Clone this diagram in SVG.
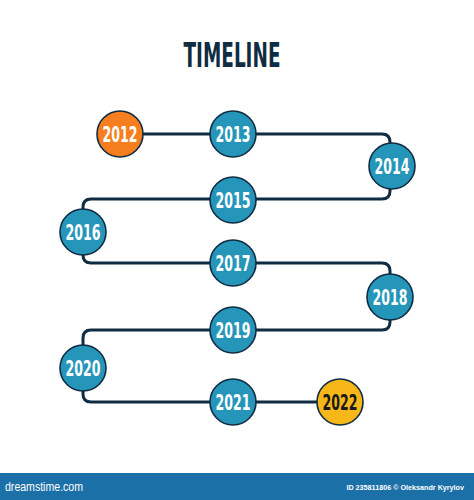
<svg xmlns="http://www.w3.org/2000/svg" width="474" height="500" viewBox="0 0 474 500">
<style>
.yr{font-family:"DejaVu Sans Condensed","Liberation Sans Narrow","Liberation Sans",sans-serif;font-stretch:condensed;font-weight:bold;font-size:21px;text-anchor:middle;fill:#ffffff}
.blue{fill:#2596ba;stroke:#0f2c42;stroke-width:1.6}
.orange{fill:#f57e1e;stroke:#0f2c42;stroke-width:1.6}
.yellow{fill:#f7b718;stroke:#0f2c42;stroke-width:1.6}
.link{fill:none;stroke:#0f2c42;stroke-width:3;stroke-linejoin:round}
.foot{font-family:"Liberation Sans","DejaVu Sans",sans-serif;fill:#ffffff}
</style>
<rect width="474" height="500" fill="#ffffff"/>
<text x="232" y="67" font-family="DejaVu Sans Condensed,Liberation Sans Narrow,sans-serif" font-weight="bold" font-size="33" fill="#0f2c42" text-anchor="middle" textLength="97" lengthAdjust="spacingAndGlyphs">TIMELINE</text>
<g id="connectors">
<path class="link" d="M120,134 H382 Q390,134 390,142 V191 Q390,199 382,199 H91 Q83,199 83,207 V255 Q83,263 91,263 H382 Q390,263 390,271 V322 Q390,330 382,330 H91 Q83,330 83,338 V394 Q83,402 91,402 H340"/>
</g>
<g id="n2012"><circle class="orange" cx="120" cy="134" r="23"/><text class="yr" x="120" y="141.5" textLength="35" lengthAdjust="spacingAndGlyphs">2012</text></g>
<g id="n2013"><circle class="blue" cx="233" cy="134" r="23"/><text class="yr" x="233" y="141.5" textLength="35" lengthAdjust="spacingAndGlyphs">2013</text></g>
<g id="n2014"><circle class="blue" cx="392" cy="166" r="23"/><text class="yr" x="392" y="173.5" textLength="35" lengthAdjust="spacingAndGlyphs">2014</text></g>
<g id="n2015"><circle class="blue" cx="233" cy="200" r="23"/><text class="yr" x="233" y="207.5" textLength="35" lengthAdjust="spacingAndGlyphs">2015</text></g>
<g id="n2016"><circle class="blue" cx="83" cy="232" r="23"/><text class="yr" x="83" y="239.5" textLength="35" lengthAdjust="spacingAndGlyphs">2016</text></g>
<g id="n2017"><circle class="blue" cx="233" cy="263" r="23"/><text class="yr" x="233" y="270.5" textLength="35" lengthAdjust="spacingAndGlyphs">2017</text></g>
<g id="n2018"><circle class="blue" cx="390" cy="297" r="23"/><text class="yr" x="390" y="304.5" textLength="35" lengthAdjust="spacingAndGlyphs">2018</text></g>
<g id="n2019"><circle class="blue" cx="233" cy="330" r="23"/><text class="yr" x="233" y="337.5" textLength="35" lengthAdjust="spacingAndGlyphs">2019</text></g>
<g id="n2020"><circle class="blue" cx="83" cy="368" r="23"/><text class="yr" x="83" y="375.5" textLength="35" lengthAdjust="spacingAndGlyphs">2020</text></g>
<g id="n2021"><circle class="blue" cx="233" cy="402" r="23"/><text class="yr" x="233" y="409.5" textLength="35" lengthAdjust="spacingAndGlyphs">2021</text></g>
<g id="n2022"><circle class="yellow" cx="340" cy="402" r="23"/><text class="yr" x="340" y="409.5" textLength="35" lengthAdjust="spacingAndGlyphs" style="fill:#1a1a1a">2022</text></g>
<g id="footer">
<rect x="0" y="473" width="474" height="27" fill="#1c70a8"/>
<text class="foot" x="5" y="491" font-size="12" textLength="78" lengthAdjust="spacingAndGlyphs">dreamstime.com</text>
<text class="foot" x="464" y="490" font-size="7.2" font-weight="bold" text-anchor="end">ID 235811806 © Oleksandr Kyrylov</text>
</g>
</svg>
